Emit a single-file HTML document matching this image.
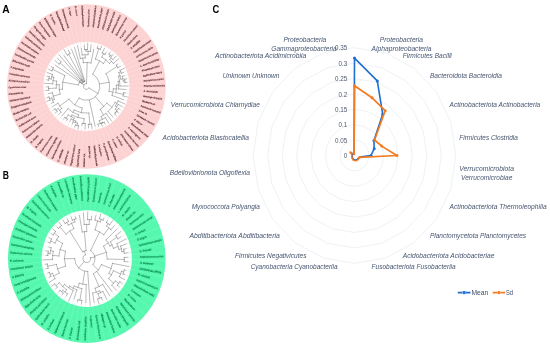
<!DOCTYPE html><html><head><meta charset="utf-8"><title>Figure</title>
<style>html,body{margin:0;padding:0;background:#fff}svg{display:block}</style></head><body>
<svg width="550" height="347" viewBox="0 0 550 347">
<rect width="550" height="347" fill="#fff"/>
<g transform="translate(86.40 86.45) scale(0.9650 1)"><circle cx="0.00" cy="0.00" r="82.25" fill="#FCD3D2"/><path d="M10.81 -43.37L19.90 -79.81M14.45 -42.30L26.59 -77.83M17.99 -40.92L33.10 -75.30M21.39 -39.25L39.37 -72.22M24.65 -37.29L45.35 -68.62M27.72 -35.07L51.00 -64.53M30.59 -32.59L56.29 -59.97M33.25 -29.88L61.18 -54.98M35.66 -26.95L65.62 -49.59M37.82 -23.83L69.59 -43.85M39.70 -20.54L73.05 -37.79M41.30 -17.10L76.00 -31.46M42.60 -13.53L78.39 -24.90M43.60 -9.87L80.22 -18.16M44.28 -6.14L81.47 -11.29M44.64 -2.36L82.14 -4.34M44.68 1.43L82.21 2.64M44.39 5.22L81.69 9.60M43.79 8.96L80.58 16.49M42.87 12.64L78.89 23.27M41.65 16.24L76.63 29.87M40.12 19.71L73.82 36.27M38.30 23.04L70.48 42.40M36.21 26.21L66.63 48.22M33.86 29.18L62.30 53.70M31.26 31.95L57.53 58.79M28.44 34.48L52.33 63.45M25.41 36.77L46.76 67.66M22.20 38.80L40.86 71.39M18.83 40.54L34.65 74.59M15.33 41.99L28.20 77.26M11.71 43.14L21.55 79.38M8.01 43.98L14.74 80.92M4.25 44.50L7.83 81.88M0.46 44.70L0.85 82.25M-3.33 44.58L-6.12 82.02M-7.10 44.13L-13.06 81.21M-10.81 43.37L-19.90 79.81M-14.45 42.30L-26.59 77.83M-17.99 40.92L-33.10 75.30M-21.39 39.25L-39.37 72.22M-24.65 37.29L-45.35 68.62M-27.72 35.07L-51.00 64.53M-30.59 32.59L-56.29 59.97M-33.25 29.88L-61.18 54.98M-35.66 26.95L-65.62 49.59M-37.82 23.83L-69.59 43.85M-39.70 20.54L-73.05 37.79M-41.30 17.10L-76.00 31.46M-42.60 13.53L-78.39 24.90M-43.60 9.87L-80.22 18.16M-44.28 6.14L-81.47 11.29M-44.64 2.36L-82.14 4.34M-44.68 -1.43L-82.21 -2.64M-44.39 -5.22L-81.69 -9.60M-43.79 -8.96L-80.58 -16.49M-42.87 -12.64L-78.89 -23.27M-41.65 -16.24L-76.63 -29.87M-40.12 -19.71L-73.82 -36.27M-38.30 -23.04L-70.48 -42.40M-36.21 -26.21L-66.63 -48.22M-33.86 -29.18L-62.30 -53.70M-31.26 -31.95L-57.53 -58.79M-28.44 -34.48L-52.33 -63.45M-25.41 -36.77L-46.76 -67.66M-22.20 -38.80L-40.86 -71.39M-18.83 -40.54L-34.65 -74.59M-15.33 -41.99L-28.20 -77.26M-11.71 -43.14L-21.55 -79.38M-8.01 -43.98L-14.74 -80.92M-4.25 -44.50L-7.83 -81.88M-0.46 -44.70L-0.85 -82.25M3.33 -44.58L6.12 -82.02M7.10 -44.13L13.06 -81.21" stroke="#FDE0E0" stroke-width="0.5" fill="none"/><circle cx="0.00" cy="0.00" r="44.70" fill="#fff"/><path d="M11.84 -40.15L12.64 -42.87M15.60 -40.01L16.24 -41.65M18.71 -38.08L19.71 -40.12M20.25 -33.67L23.04 -38.30M24.61 -34.00L26.21 -36.21M27.40 -31.79L29.18 -33.86M30.84 -30.18L31.95 -31.26M33.07 -27.28L34.48 -28.44M32.33 -22.35L36.77 -25.41M35.21 -20.15L38.80 -22.20M39.24 -18.23L40.54 -18.83M38.50 -14.05L41.99 -15.33M39.16 -10.63L43.14 -11.71M41.52 -7.56L43.98 -8.01M42.01 -4.01L44.50 -4.25M43.19 -0.45L44.70 -0.46M40.75 3.04L44.58 3.33M40.65 6.54L44.13 7.10M42.23 10.53L43.37 10.81M38.51 13.16L42.30 14.45M39.61 17.41L40.92 17.99M37.01 20.18L39.25 21.39M34.83 23.02L37.29 24.65M33.11 26.17L35.07 27.72M30.77 28.88L32.59 30.59M27.13 30.19L29.88 33.25M26.03 34.44L26.95 35.66M22.94 36.40L23.83 37.82M19.39 37.48L20.54 39.70M16.39 39.58L17.10 41.30M12.61 39.69L13.53 42.60M8.96 39.59L9.87 43.60M5.80 41.85L6.14 44.28M2.18 41.21L2.36 44.64M-1.36 42.36L-1.43 44.68M-4.57 38.90L-5.22 44.39M-8.63 42.15L-8.96 43.79M-11.94 40.48L-12.64 42.87M-14.47 37.11L-16.24 41.65M-17.07 34.75L-19.71 40.12M-20.45 33.99L-23.04 38.30M-23.50 32.47L-26.21 36.21M-25.23 29.28L-29.18 33.86M-28.63 28.01L-31.95 31.26M-32.07 26.45L-34.48 28.44M-34.08 23.55L-36.77 25.41M-34.99 20.03L-38.80 22.20M-35.96 16.71L-40.54 18.83M-40.44 14.76L-41.99 15.33M-40.73 11.06L-43.14 11.71M-39.22 7.14L-43.98 8.01M-41.97 4.01L-44.50 4.25M-41.25 0.43L-44.70 0.46M-43.36 -3.24L-44.58 -3.33M-41.10 -6.61L-44.13 -7.10M-40.39 -10.07L-43.37 -10.81M-40.45 -13.82L-42.30 -14.45M-38.78 -17.05L-40.92 -17.99M-36.21 -19.74L-39.25 -21.39M-31.99 -21.14L-37.29 -24.65M-32.46 -25.66L-35.07 -27.72M-29.89 -28.06L-32.59 -30.59M-28.42 -31.62L-29.88 -33.25M-23.14 -30.62L-26.95 -35.66M-23.28 -36.94L-23.83 -37.82M-18.56 -35.88L-20.54 -39.70M-15.22 -36.76L-17.10 -41.30M-12.32 -38.78L-13.53 -42.60M-9.22 -40.71L-9.87 -43.60M-5.29 -38.14L-6.14 -44.28M-2.18 -41.30L-2.36 -44.64M1.38 -43.15L1.43 -44.68M4.88 -41.55L5.22 -44.39M7.59 -37.07L8.96 -43.79" fill="none" stroke="#F6C9C9" stroke-width="0.3"/><path d="M2.58 1.53A3.00 3.00 0 1 1 0.10 -3.00M2.58 1.53L12.05 7.13M6.60 -12.35A14.00 14.00 0 1 1 -7.65 11.73M6.60 -12.35L13.68 -25.57M9.38 -27.44A29.00 29.00 0 0 1 17.62 -23.03M9.38 -27.44L12.89 -37.72M11.28 -38.23A39.86 39.86 0 0 1 14.48 -37.14M11.28 -38.23L11.84 -40.15M14.48 -37.14L15.60 -40.01M17.62 -23.03L20.30 -26.54M15.99 -29.34A33.42 33.42 0 0 1 24.13 -23.12M15.99 -29.34L17.85 -32.74M16.44 -33.47A37.29 37.29 0 0 1 19.22 -31.96M16.44 -33.47L18.71 -38.08M19.22 -31.96L20.25 -33.67M24.13 -23.12L26.14 -25.04M24.20 -26.91A36.19 36.19 0 0 1 27.92 -23.03M24.20 -26.91L25.68 -28.54M23.81 -30.12A38.39 38.39 0 0 1 27.44 -26.85M23.81 -30.12L24.79 -31.36M23.43 -32.38A39.97 39.97 0 0 1 26.09 -30.28M23.43 -32.38L24.61 -34.00M26.09 -30.28L27.40 -31.79M27.44 -26.85L30.84 -30.18M27.92 -23.03L33.07 -27.28M13.78 -2.49L23.62 -4.26M20.31 -12.79A24.00 24.00 0 0 1 23.50 4.89M20.31 -12.79L31.80 -20.04M30.92 -21.37A37.59 37.59 0 0 1 32.63 -18.67M30.92 -21.37L32.33 -22.35M32.63 -18.67L35.21 -20.15M23.50 4.89L27.50 5.72M28.00 2.28A28.09 28.09 0 0 1 26.58 9.08M28.00 2.28L31.06 2.53M31.14 -1.23A31.16 31.16 0 0 1 30.53 6.25M31.14 -1.23L33.24 -1.32M32.88 -5.09A33.27 33.27 0 0 1 33.18 2.48M32.88 -5.09L34.42 -5.33M33.30 -10.19A34.83 34.83 0 0 1 34.82 -0.36M33.30 -10.19L34.86 -10.67M33.68 -13.94A36.45 36.45 0 0 1 35.72 -7.29M33.68 -13.94L35.56 -14.72M34.90 -16.21A38.48 38.48 0 0 1 36.15 -13.20M34.90 -16.21L39.24 -18.23M36.15 -13.20L38.50 -14.05M35.72 -7.29L37.80 -7.72M37.23 -10.11A38.58 38.58 0 0 1 38.21 -5.30M37.23 -10.11L39.16 -10.63M38.21 -5.30L39.82 -5.52M39.55 -7.20A40.20 40.20 0 0 1 40.02 -3.82M39.55 -7.20L41.52 -7.56M40.02 -3.82L42.01 -4.01M34.82 -0.36L43.19 -0.45M33.18 2.48L40.75 3.04M30.53 6.25L38.37 7.85M38.67 6.22A39.17 39.17 0 0 1 38.01 9.48M38.67 6.22L40.65 6.54M38.01 9.48L42.23 10.53M26.58 9.08L38.51 13.16M9.34 10.43L18.02 20.11M21.23 16.69A27.00 27.00 0 0 1 14.27 22.92M21.23 16.69L26.52 20.85M29.71 15.99A33.74 33.74 0 0 1 22.55 25.09M29.71 15.99L31.60 17.01M32.85 14.44A35.88 35.88 0 0 1 30.15 19.47M32.85 14.44L39.61 17.41M30.15 19.47L31.54 20.36M32.96 17.97A37.54 37.54 0 0 1 29.94 22.65M32.96 17.97L37.01 20.18M29.94 22.65L31.70 23.98M33.16 21.91A39.75 39.75 0 0 1 30.11 25.95M33.16 21.91L34.83 23.02M30.11 25.95L30.45 26.24M31.54 24.93A40.20 40.20 0 0 1 29.31 27.51M31.54 24.93L33.11 26.17M29.31 27.51L30.77 28.88M22.55 25.09L27.13 30.19M14.27 22.92L17.82 28.62M20.33 26.90A33.72 33.72 0 0 1 15.17 30.11M20.33 26.90L26.03 34.44M15.17 30.11L16.57 32.88M19.63 31.15A36.82 36.82 0 0 1 13.36 34.31M19.63 31.15L22.94 36.40M13.36 34.31L14.38 36.94M16.70 35.95A39.64 39.64 0 0 1 12.00 37.78M16.70 35.95L16.94 36.46M18.47 35.71A40.20 40.20 0 0 1 15.38 37.14M18.47 35.71L19.39 37.48M15.38 37.14L16.39 39.58M12.00 37.78L12.61 39.69M3.09 13.65L8.96 39.59M-7.65 11.73L-12.01 18.43M-4.37 21.56A22.00 22.00 0 0 1 -17.96 12.70M-4.37 21.56L-5.33 26.29M2.55 26.70A26.82 26.82 0 0 1 -12.74 23.60M2.55 26.70L3.62 37.85M5.22 37.66A38.02 38.02 0 0 1 2.01 37.97M5.22 37.66L5.80 41.85M2.01 37.97L2.18 41.21M-12.74 23.60L-13.99 25.91M-8.10 28.31A29.44 29.44 0 0 1 -19.22 22.30M-8.10 28.31L-8.89 31.06M-2.41 32.22A32.31 32.31 0 0 1 -15.01 28.61M-2.41 32.22L-2.77 37.06M-1.19 37.15A37.17 37.17 0 0 1 -4.34 36.91M-1.19 37.15L-1.36 42.36M-4.34 36.91L-4.57 38.90M-15.01 28.61L-15.87 30.26M-12.75 31.70A34.17 34.17 0 0 1 -18.84 28.51M-12.75 31.70L-13.53 33.65M-10.99 34.56A36.26 36.26 0 0 1 -15.99 32.55M-10.99 34.56L-11.47 36.05M-9.15 36.71A37.83 37.83 0 0 1 -13.74 35.25M-9.15 36.71L-9.73 39.01M-8.06 39.38A40.20 40.20 0 0 1 -11.37 38.56M-8.06 39.38L-8.63 42.15M-11.37 38.56L-11.94 40.48M-13.74 35.25L-14.47 37.11M-15.99 32.55L-17.07 34.75M-18.84 28.51L-21.00 31.77M-19.63 32.64A38.08 38.08 0 0 1 -22.33 30.85M-19.63 32.64L-20.45 33.99M-22.33 30.85L-23.50 32.47M-19.22 22.30L-25.23 29.28M-17.96 12.70L-27.65 19.55M-25.66 22.10A33.86 33.86 0 0 1 -29.39 16.82M-25.66 22.10L-27.87 23.99M-26.28 25.72A36.77 36.77 0 0 1 -29.34 22.17M-26.28 25.72L-28.63 28.01M-29.34 22.17L-31.45 23.77M-30.42 25.09A39.43 39.43 0 0 1 -32.43 22.42M-30.42 25.09L-32.07 26.45M-32.43 22.42L-34.08 23.55M-29.39 16.82L-34.99 20.03M-2.56 -1.57L-7.25 -4.43M-8.37 -1.47A8.50 8.50 0 0 1 -5.13 -6.78M-8.37 -1.47L-24.62 -4.33M-24.85 2.71A25.00 25.00 0 0 1 -22.44 -11.02M-24.85 2.71L-28.15 3.07M-27.24 7.71A28.31 28.31 0 0 1 -28.27 -1.66M-27.24 7.71L-34.35 9.72M-33.27 12.95A35.70 35.70 0 0 1 -35.12 6.40M-33.27 12.95L-35.09 13.66M-34.15 15.86A37.65 37.65 0 0 1 -35.88 11.40M-34.15 15.86L-35.96 16.71M-35.88 11.40L-38.31 12.17M-37.76 13.78A40.20 40.20 0 0 1 -38.80 10.53M-37.76 13.78L-40.44 14.76M-38.80 10.53L-40.73 11.06M-35.12 6.40L-39.22 7.14M-28.27 -1.66L-31.21 -1.83M-31.22 1.65A31.26 31.26 0 0 1 -30.81 -5.29M-31.22 1.65L-39.19 2.07M-39.07 3.73A39.25 39.25 0 0 1 -39.25 0.41M-39.07 3.73L-41.97 4.01M-39.25 0.41L-41.25 0.43M-30.81 -5.29L-34.49 -5.92M-34.90 -2.61A34.99 34.99 0 0 1 -33.77 -9.18M-34.90 -2.61L-43.36 -3.24M-33.77 -9.18L-35.90 -9.77M-36.45 -7.46A37.21 37.21 0 0 1 -35.21 -12.03M-36.45 -7.46L-38.82 -7.95M-39.12 -6.29A39.62 39.62 0 0 1 -38.45 -9.59M-39.12 -6.29L-41.10 -6.61M-38.45 -9.59L-40.39 -10.07M-35.21 -12.03L-40.45 -13.82M-22.44 -11.02L-34.89 -17.14M-35.59 -15.65A38.88 38.88 0 0 1 -34.14 -18.61M-35.59 -15.65L-38.78 -17.05M-34.14 -18.61L-36.21 -19.74M-5.13 -6.78L-3.32 -4.39M-4.59 -3.03A5.50 5.50 0 0 1 -1.67 -5.24M-4.59 -3.03L-31.99 -21.14M-4.17 -3.59L-27.27 -23.50M-28.24 -22.32A36.00 36.00 0 0 1 -26.25 -24.64M-28.24 -22.32L-32.46 -25.66M-26.25 -24.64L-29.89 -28.06M-3.68 -4.09L-28.42 -31.62M-3.32 -4.39L-23.14 -30.62M-2.73 -4.77L-18.38 -32.11M-19.73 -31.30A37.00 37.00 0 0 1 -17.00 -32.86M-19.73 -31.30L-23.28 -36.94M-17.00 -32.86L-18.56 -35.88M-2.10 -5.08L-15.22 -36.76M-1.67 -5.24L-12.32 -38.78M0.10 -3.00L0.83 -23.99M-3.17 -23.79A24.00 24.00 0 0 1 4.81 -23.51M-3.17 -23.79L-3.78 -28.37M-6.32 -27.91A28.62 28.62 0 0 1 -1.21 -28.59M-6.32 -27.91L-9.22 -40.71M-1.21 -28.59L-1.34 -31.76M-4.36 -31.49A31.79 31.79 0 0 1 1.69 -31.74M-4.36 -31.49L-5.29 -38.14M1.69 -31.74L1.88 -35.16M-0.37 -35.21A35.21 35.21 0 0 1 4.11 -34.97M-0.37 -35.21L-0.38 -36.92M-1.95 -36.87A36.92 36.92 0 0 1 1.18 -36.91M-1.95 -36.87L-2.18 -41.30M1.18 -36.91L1.38 -43.15M4.11 -34.97L4.88 -41.55M4.81 -23.51L7.59 -37.07" fill="none" stroke="#4d4d4d" stroke-width="0.4" stroke-linecap="square"/><g font-family="'Liberation Sans', sans-serif" font-size="2.45" font-style="italic" font-weight="bold" fill="#5a2832" stroke="#5a2832" stroke-width="0.09"><text transform="translate(16.83 -57.07) rotate(-73.57)" y="0.86" textLength="21.01" lengthAdjust="spacingAndGlyphs">Bifidobacterium bifidum</text><text transform="translate(21.61 -55.44) rotate(-68.70)" y="0.86" textLength="20.62" lengthAdjust="spacingAndGlyphs">Subdoligranulum variabile</text><text transform="translate(26.23 -53.40) rotate(-63.84)" y="0.86" textLength="19.85" lengthAdjust="spacingAndGlyphs">Anaerostipes hadrus</text><text transform="translate(30.67 -50.99) rotate(-58.97)" y="0.86" textLength="20.85" lengthAdjust="spacingAndGlyphs">Butyricimonas virosa</text><text transform="translate(34.88 -48.20) rotate(-54.11)" y="0.86" textLength="9.69" lengthAdjust="spacingAndGlyphs">R. gnavus</text><text transform="translate(38.84 -45.07) rotate(-49.24)" y="0.86" textLength="21.04" lengthAdjust="spacingAndGlyphs">Flavonifractor plautii</text><text transform="translate(42.53 -41.61) rotate(-44.38)" y="0.86" textLength="13.99" lengthAdjust="spacingAndGlyphs">Blautia obeum</text><text transform="translate(45.90 -37.86) rotate(-39.51)" y="0.86" textLength="12.61" lengthAdjust="spacingAndGlyphs">P. mirabilis</text><text transform="translate(48.95 -33.83) rotate(-34.65)" y="0.86" textLength="21.44" lengthAdjust="spacingAndGlyphs">Erysipelatoclostridium ramosum</text><text transform="translate(51.64 -29.56) rotate(-29.78)" y="0.86" textLength="19.83" lengthAdjust="spacingAndGlyphs">Lactococcus lactis</text><text transform="translate(53.96 -25.07) rotate(-24.92)" y="0.86" textLength="21.78" lengthAdjust="spacingAndGlyphs">Staphylococcus aureus</text><text transform="translate(55.89 -20.40) rotate(-20.05)" y="0.86" textLength="20.76" lengthAdjust="spacingAndGlyphs">L. asaccharolyticus</text><text transform="translate(57.42 -15.59) rotate(-15.19)" y="0.86" textLength="18.79" lengthAdjust="spacingAndGlyphs">Phocaeicola dorei</text><text transform="translate(58.54 -10.66) rotate(-10.32)" y="0.86" textLength="20.13" lengthAdjust="spacingAndGlyphs">Agathobacter faecis</text><text transform="translate(59.23 -5.66) rotate(-5.46)" y="0.86" textLength="20.80" lengthAdjust="spacingAndGlyphs">Peptostreptococcus anaerobius</text><text transform="translate(59.50 -0.62) rotate(-0.59)" y="0.86" textLength="21.83" lengthAdjust="spacingAndGlyphs">Bilophila wadsworthia</text><text transform="translate(59.33 4.43) rotate(4.27)" y="0.86" textLength="14.75" lengthAdjust="spacingAndGlyphs">A. muciniphila</text><text transform="translate(58.75 9.45) rotate(9.14)" y="0.86" textLength="20.05" lengthAdjust="spacingAndGlyphs">Gemmiger formicilis</text><text transform="translate(57.73 14.39) rotate(14.00)" y="0.86" textLength="14.30" lengthAdjust="spacingAndGlyphs">Roseburia sp.</text><text transform="translate(56.30 19.24) rotate(18.86)" y="0.86" textLength="21.68" lengthAdjust="spacingAndGlyphs">Acinetobacter baumannii</text><text transform="translate(54.47 23.94) rotate(23.73)" y="0.86" textLength="9.60" lengthAdjust="spacingAndGlyphs">Dorea sp.</text><text transform="translate(52.24 28.48) rotate(28.59)" y="0.86" textLength="20.49" lengthAdjust="spacingAndGlyphs">Citrobacter freundii</text><text transform="translate(49.64 32.81) rotate(33.46)" y="0.86" textLength="9.79" lengthAdjust="spacingAndGlyphs">V. dispar</text><text transform="translate(46.68 36.90) rotate(38.32)" y="0.86" textLength="21.95" lengthAdjust="spacingAndGlyphs">Methanobrevibacter smithii</text><text transform="translate(43.38 40.72) rotate(43.19)" y="0.86" textLength="17.19" lengthAdjust="spacingAndGlyphs">O. valericigenes</text><text transform="translate(39.77 44.25) rotate(48.05)" y="0.86" textLength="21.23" lengthAdjust="spacingAndGlyphs">Lactobacillus rhamnosus</text><text transform="translate(35.88 47.47) rotate(52.92)" y="0.86" textLength="20.75" lengthAdjust="spacingAndGlyphs">Enterobacter cloacae</text><text transform="translate(31.72 50.34) rotate(57.78)" y="0.86" textLength="10.43" lengthAdjust="spacingAndGlyphs">D. invisus</text><text transform="translate(27.34 52.85) rotate(62.65)" y="0.86" textLength="9.70" lengthAdjust="spacingAndGlyphs">F. varium</text><text transform="translate(22.76 54.98) rotate(67.51)" y="0.86" textLength="21.34" lengthAdjust="spacingAndGlyphs">Enterocloster bolteae</text><text transform="translate(18.01 56.71) rotate(72.38)" y="0.86" textLength="17.84" lengthAdjust="spacingAndGlyphs">H. parainfluenzae</text><text transform="translate(13.14 58.03) rotate(77.24)" y="0.86" textLength="12.11" lengthAdjust="spacingAndGlyphs">P. vulgatus</text><text transform="translate(8.17 58.94) rotate(82.11)" y="0.86" textLength="21.04" lengthAdjust="spacingAndGlyphs">Veillonella parvula</text><text transform="translate(3.14 59.42) rotate(86.97)" y="0.86" textLength="12.48" lengthAdjust="spacingAndGlyphs">Bacillus sp.</text><text transform="translate(-2.59 80.76) rotate(271.84)" y="0.86" textLength="13.92" lengthAdjust="spacingAndGlyphs">Dialister sp.</text><text transform="translate(-9.43 80.25) rotate(276.70)" y="0.86" textLength="18.03" lengthAdjust="spacingAndGlyphs">Eggerthella lenta</text><text transform="translate(-16.20 79.16) rotate(281.57)" y="0.86" textLength="21.25" lengthAdjust="spacingAndGlyphs">Megasphaera elsdenii</text><text transform="translate(-22.86 77.50) rotate(286.43)" y="0.86" textLength="14.06" lengthAdjust="spacingAndGlyphs">Alistipes sp.</text><text transform="translate(-29.35 75.28) rotate(291.30)" y="0.86" textLength="13.08" lengthAdjust="spacingAndGlyphs">C. difficile</text><text transform="translate(-35.63 72.52) rotate(296.16)" y="0.86" textLength="20.74" lengthAdjust="spacingAndGlyphs">Bacteroides uniformis</text><text transform="translate(-41.65 69.24) rotate(301.03)" y="0.86" textLength="21.60" lengthAdjust="spacingAndGlyphs">Anaerococcus vaginalis</text><text transform="translate(-47.37 65.46) rotate(305.89)" y="0.86" textLength="19.96" lengthAdjust="spacingAndGlyphs">Eubacterium rectale</text><text transform="translate(-52.75 61.21) rotate(310.76)" y="0.86" textLength="11.83" lengthAdjust="spacingAndGlyphs">B. fragilis</text><text transform="translate(-57.75 56.51) rotate(315.62)" y="0.86" textLength="11.05" lengthAdjust="spacingAndGlyphs">R. ilealis</text><text transform="translate(-62.34 51.41) rotate(320.49)" y="0.86" textLength="21.55" lengthAdjust="spacingAndGlyphs">Parabacteroides distasonis</text><text transform="translate(-66.47 45.94) rotate(325.35)" y="0.86" textLength="21.43" lengthAdjust="spacingAndGlyphs">Streptococcus salivarius</text><text transform="translate(-70.13 40.14) rotate(330.22)" y="0.86" textLength="20.55" lengthAdjust="spacingAndGlyphs">Cutibacterium acnes</text><text transform="translate(-73.28 34.04) rotate(335.08)" y="0.86" textLength="17.79" lengthAdjust="spacingAndGlyphs">Escherichia coli</text><text transform="translate(-75.90 27.71) rotate(339.95)" y="0.86" textLength="16.88" lengthAdjust="spacingAndGlyphs">Blautia wexlerae</text><text transform="translate(-77.98 21.17) rotate(344.81)" y="0.86" textLength="21.61" lengthAdjust="spacingAndGlyphs">Roseburia intestinalis</text><text transform="translate(-79.49 14.48) rotate(349.68)" y="0.86" textLength="21.71" lengthAdjust="spacingAndGlyphs">Odoribacter splanchnicus</text><text transform="translate(-80.43 7.69) rotate(354.54)" y="0.86" textLength="15.47" lengthAdjust="spacingAndGlyphs">Prevotella sp.</text><text transform="translate(-80.80 0.84) rotate(359.41)" y="0.86" textLength="18.52" lengthAdjust="spacingAndGlyphs">Coprococcus comes</text><text transform="translate(-80.58 -6.02) rotate(364.27)" y="0.86" textLength="21.64" lengthAdjust="spacingAndGlyphs">Alistipes putredinis</text><text transform="translate(-79.78 -12.83) rotate(369.14)" y="0.86" textLength="21.57" lengthAdjust="spacingAndGlyphs">Fusicatenibacter saccharivorans</text><text transform="translate(-78.40 -19.55) rotate(374.00)" y="0.86" textLength="13.80" lengthAdjust="spacingAndGlyphs">K. pneumoniae</text><text transform="translate(-76.46 -26.13) rotate(378.86)" y="0.86" textLength="18.65" lengthAdjust="spacingAndGlyphs">Eubacterium hallii</text><text transform="translate(-73.97 -32.52) rotate(383.73)" y="0.86" textLength="21.44" lengthAdjust="spacingAndGlyphs">Lactobacillus gasseri</text><text transform="translate(-70.94 -38.67) rotate(388.59)" y="0.86" textLength="20.82" lengthAdjust="spacingAndGlyphs">Enterococcus faecalis</text><text transform="translate(-67.41 -44.55) rotate(393.46)" y="0.86" textLength="21.49" lengthAdjust="spacingAndGlyphs">Pseudomonas aeruginosa</text><text transform="translate(-63.39 -50.11) rotate(398.32)" y="0.86" textLength="21.48" lengthAdjust="spacingAndGlyphs">Collinsella aerofaciens</text><text transform="translate(-58.91 -55.30) rotate(403.19)" y="0.86" textLength="21.28" lengthAdjust="spacingAndGlyphs">Barnesiella intestinihominis</text><text transform="translate(-54.01 -60.10) rotate(408.05)" y="0.86" textLength="17.81" lengthAdjust="spacingAndGlyphs">Finegoldia magna</text><text transform="translate(-48.72 -64.46) rotate(412.92)" y="0.86" textLength="18.53" lengthAdjust="spacingAndGlyphs">Dorea longicatena</text><text transform="translate(-43.08 -68.36) rotate(417.78)" y="0.86" textLength="21.97" lengthAdjust="spacingAndGlyphs">Bifidobacterium longum</text><text transform="translate(-37.12 -71.77) rotate(422.65)" y="0.86" textLength="10.83" lengthAdjust="spacingAndGlyphs">R. hominis</text><text transform="translate(-30.90 -74.66) rotate(427.51)" y="0.86" textLength="20.86" lengthAdjust="spacingAndGlyphs">Hungatella hathewayi</text><text transform="translate(-24.46 -77.01) rotate(432.38)" y="0.86" textLength="19.74" lengthAdjust="spacingAndGlyphs">Ruminococcus bromii</text><text transform="translate(-17.84 -78.81) rotate(437.24)" y="0.86" textLength="8.51" lengthAdjust="spacingAndGlyphs">P. copri</text><text transform="translate(-11.09 -80.03) rotate(442.11)" y="0.86" textLength="9.49" lengthAdjust="spacingAndGlyphs">B. cereus</text><text transform="translate(-4.27 -80.69) rotate(446.97)" y="0.86" textLength="21.31" lengthAdjust="spacingAndGlyphs">Mediterraneibacter torques</text><text transform="translate(1.91 -59.47) rotate(-88.16)" y="0.86" textLength="17.77" lengthAdjust="spacingAndGlyphs">Parvimonas micra</text><text transform="translate(6.94 -59.09) rotate(-83.30)" y="0.86" textLength="21.99" lengthAdjust="spacingAndGlyphs">Holdemanella biformis</text><text transform="translate(11.93 -58.29) rotate(-78.43)" y="0.86" textLength="20.87" lengthAdjust="spacingAndGlyphs">Desulfovibrio piger</text></g></g>
<g transform="translate(86.75 258.55) scale(0.9330 1)"><circle cx="0.00" cy="0.00" r="84.40" fill="#55F8AE"/><path d="M8.40 -47.62L14.66 -83.12M13.17 -46.52L22.99 -81.21M17.81 -44.95L31.09 -78.47M22.27 -42.92L38.87 -74.92M26.49 -40.45L46.25 -70.60M30.45 -37.56L53.15 -65.56M34.09 -34.28L59.51 -59.85M37.39 -30.66L65.26 -53.52M40.30 -26.72L70.34 -46.64M42.79 -22.51L74.70 -39.29M44.85 -18.06L78.29 -31.53M46.45 -13.43L81.08 -23.45M47.57 -8.66L83.03 -15.12M48.20 -3.81L84.14 -6.65M48.34 1.09L84.38 1.90M47.98 5.97L83.75 10.43M47.13 10.80L82.27 18.85M45.79 15.51L79.94 27.07M43.99 20.06L76.79 35.02M41.74 24.41L72.85 42.61M39.05 28.51L68.17 49.76M35.97 32.31L62.78 56.40M32.51 35.78L56.76 62.47M28.73 38.89L50.15 67.89M24.64 41.60L43.02 72.61M20.31 43.88L35.45 76.59M15.77 45.71L27.52 79.79M11.06 47.07L19.31 82.16M6.24 47.95L10.90 83.69M1.36 48.33L2.38 84.37M-3.54 48.22L-6.17 84.17M-8.40 47.62L-14.66 83.12M-13.17 46.52L-22.99 81.21M-17.81 44.95L-31.09 78.47M-22.27 42.92L-38.87 74.92M-26.49 40.45L-46.25 70.60M-30.45 37.56L-53.15 65.56M-34.09 34.28L-59.51 59.85M-37.39 30.66L-65.26 53.52M-40.30 26.72L-70.34 46.64M-42.79 22.51L-74.70 39.29M-44.85 18.06L-78.29 31.53M-46.45 13.43L-81.08 23.45M-47.57 8.66L-83.03 15.12M-48.20 3.81L-84.14 6.65M-48.34 -1.09L-84.38 -1.90M-47.98 -5.97L-83.75 -10.43M-47.13 -10.80L-82.27 -18.85M-45.79 -15.51L-79.94 -27.07M-43.99 -20.06L-76.79 -35.02M-41.74 -24.41L-72.85 -42.61M-39.05 -28.51L-68.17 -49.76M-35.97 -32.31L-62.78 -56.40M-32.51 -35.78L-56.76 -62.47M-28.73 -38.89L-50.15 -67.89M-24.64 -41.60L-43.02 -72.61M-20.31 -43.88L-35.45 -76.59M-15.77 -45.71L-27.52 -79.79M-11.06 -47.07L-19.31 -82.16M-6.24 -47.95L-10.90 -83.69M-1.36 -48.33L-2.38 -84.37M3.54 -48.22L6.17 -84.17" stroke="#7BFCC3" stroke-width="0.5" fill="none"/><circle cx="0.00" cy="0.00" r="48.35" fill="#fff"/><path d="M9.83 -42.90L10.80 -47.13M14.98 -44.23L15.51 -45.79M18.31 -40.15L20.06 -43.99M22.05 -37.71L24.41 -41.74M27.64 -37.86L28.51 -39.05M29.39 -32.72L32.31 -35.97M32.55 -29.58L35.78 -32.51M36.27 -26.79L38.89 -28.73M36.68 -21.73L41.60 -24.64M41.86 -19.38L43.88 -20.31M42.21 -14.56L45.71 -15.77M42.01 -9.87L47.07 -11.06M44.10 -5.74L47.95 -6.24M44.00 -1.24L48.33 -1.36M44.07 3.23L48.22 3.54M44.87 7.91L47.62 8.40M41.67 11.80L46.52 13.17M40.65 16.10L44.95 17.81M40.48 21.00L42.92 22.27M37.90 24.82L40.45 26.49M34.97 28.35L37.56 30.45M31.79 31.61L34.28 34.09M26.92 32.82L30.66 37.39M24.58 37.07L26.72 40.30M21.43 40.75L22.51 42.79M16.56 41.13L18.06 44.85M12.97 44.85L13.43 46.45M7.99 43.85L8.66 47.57M3.67 46.48L3.81 48.20M-0.99 43.94L-1.09 48.34M-5.67 45.51L-5.97 47.98M-9.88 43.12L-10.80 47.13M-13.64 40.26L-15.51 45.79M-19.28 42.28L-20.06 43.99M-21.85 37.35L-24.41 41.74M-26.40 36.17L-28.51 39.05M-29.93 33.31L-32.31 35.97M-33.02 30.00L-35.78 32.51M-37.21 27.48L-38.89 28.73M-40.02 23.71L-41.60 24.64M-40.22 18.62L-43.88 20.31M-41.53 14.33L-45.71 15.77M-43.36 10.19L-47.07 11.06M-44.17 5.75L-47.95 6.24M-46.78 1.32L-48.33 1.36M-43.52 -3.19L-48.22 -3.54M-43.48 -7.67L-47.62 -8.40M-40.60 -11.49L-46.52 -13.17M-41.26 -16.35L-44.95 -17.81M-40.37 -20.94L-42.92 -22.27M-37.72 -24.71L-40.45 -26.49M-36.18 -29.33L-37.56 -30.45M-31.71 -31.53L-34.28 -34.09M-29.88 -36.43L-30.66 -37.39M-25.47 -38.41L-26.72 -40.30M-20.90 -39.75L-22.51 -42.79M-16.73 -41.54L-18.06 -44.85M-12.04 -41.64L-13.43 -46.45M-7.85 -43.10L-8.66 -47.57M-3.58 -45.32L-3.81 -48.20M1.04 -46.30L1.09 -48.34M5.24 -42.09L5.97 -47.98" fill="none" stroke="#9EF5CF" stroke-width="0.3"/><path d="M3.94 -0.69A4.00 4.00 0 1 1 -1.33 -3.77M3.94 -0.69L8.87 -1.54M4.14 -7.99A9.00 9.00 0 0 1 6.60 6.12M4.14 -7.99L13.81 -26.63M8.90 -28.65A30.00 30.00 0 0 1 18.30 -23.77M8.90 -28.65L11.69 -37.62M8.80 -38.40A39.40 39.40 0 0 1 14.51 -36.63M8.80 -38.40L9.83 -42.90M14.51 -36.63L15.52 -39.17M13.51 -39.90A42.13 42.13 0 0 1 17.48 -38.33M13.51 -39.90L14.98 -44.23M17.48 -38.33L18.31 -40.15M18.30 -23.77L23.64 -30.72M21.24 -32.42A38.76 38.76 0 0 1 25.90 -28.83M21.24 -32.42L22.84 -34.87M21.04 -35.98A41.68 41.68 0 0 1 24.58 -33.67M21.04 -35.98L22.05 -37.71M24.58 -33.67L27.64 -37.86M25.90 -28.83L29.39 -32.72M8.63 -2.57L21.08 -6.28M18.14 -12.45A22.00 22.00 0 0 1 21.99 0.50M18.14 -12.45L22.95 -15.74M20.60 -18.71A27.83 27.83 0 0 1 24.87 -12.48M20.60 -18.71L32.55 -29.58M24.87 -12.48L27.15 -13.63M25.32 -16.79A30.38 30.38 0 0 1 28.59 -10.27M25.32 -16.79L32.25 -21.39M31.13 -22.99A38.70 38.70 0 0 1 33.30 -19.73M31.13 -22.99L36.27 -26.79M33.30 -19.73L36.68 -21.73M28.59 -10.27L33.63 -12.08M32.42 -15.01A35.73 35.73 0 0 1 34.56 -9.05M32.42 -15.01L41.86 -19.38M34.56 -9.05L37.14 -9.73M36.29 -12.52A38.39 38.39 0 0 1 37.77 -6.88M36.29 -12.52L42.21 -14.56M37.77 -6.88L39.95 -7.28M39.53 -9.29A40.61 40.61 0 0 1 40.27 -5.24M39.53 -9.29L42.01 -9.87M40.27 -5.24L44.10 -5.74M21.99 0.50L40.30 0.91M40.29 -1.13A40.31 40.31 0 0 1 40.20 2.95M40.29 -1.13L44.00 -1.24M40.20 2.95L44.07 3.23M6.60 6.12L12.46 11.56M15.88 6.06A17.00 17.00 0 0 1 7.24 15.38M15.88 6.06L26.16 9.98M27.57 4.86A28.00 28.00 0 0 1 23.80 14.74M27.57 4.86L44.87 7.91M23.80 14.74L26.41 16.36M28.58 12.17A31.07 31.07 0 0 1 23.63 20.17M28.58 12.17L36.28 15.45M37.34 12.65A39.43 39.43 0 0 1 35.00 18.16M37.34 12.65L39.60 13.41M40.22 11.39A41.80 41.80 0 0 1 38.87 15.40M40.22 11.39L41.67 11.80M38.87 15.40L40.65 16.10M35.00 18.16L40.48 21.00M23.63 20.17L28.82 24.60M30.60 22.34A37.89 37.89 0 0 1 26.86 26.71M30.60 22.34L34.21 24.97M35.43 23.21A42.35 42.35 0 0 1 32.90 26.67M35.43 23.21L37.90 24.82M32.90 26.67L34.97 28.35M26.86 26.71L31.79 31.61M10.78 13.14L26.92 32.82M7.24 15.38L13.20 28.05M17.13 25.84A31.00 31.00 0 0 1 8.99 29.67M17.13 25.84L24.58 37.07M8.99 29.67L10.19 33.65M13.96 32.27A35.16 35.16 0 0 1 6.30 34.59M13.96 32.27L14.74 34.08M17.29 32.87A37.13 37.13 0 0 1 12.11 35.10M17.29 32.87L21.43 40.75M12.11 35.10L13.72 39.78M15.72 39.03A42.08 42.08 0 0 1 11.69 40.42M15.72 39.03L16.56 41.13M11.69 40.42L12.97 44.85M6.30 34.59L7.99 43.85M-2.71 2.95L-8.79 9.57M1.02 12.96A13.00 13.00 0 0 1 -13.00 0.08M1.02 12.96L3.67 46.48M-2.19 12.81L-4.37 25.63M-0.59 25.99A26.00 26.00 0 0 1 -8.07 24.72M-0.59 25.99L-0.99 43.94M-8.07 24.72L-9.48 29.05M-5.31 30.09A30.56 30.56 0 0 1 -13.47 27.43M-5.31 30.09L-7.33 41.59M-5.22 41.91A42.23 42.23 0 0 1 -9.43 41.17M-5.22 41.91L-5.67 45.51M-9.43 41.17L-9.88 43.12M-13.47 27.43L-14.60 29.74M-10.63 31.38A33.13 33.13 0 0 1 -18.33 27.60M-10.63 31.38L-13.64 40.26M-18.33 27.60L-19.42 29.24M-14.57 31.94A35.10 35.10 0 0 1 -23.79 25.81M-14.57 31.94L-19.28 42.28M-23.79 25.81L-25.77 27.96M-21.63 31.27A38.03 38.03 0 0 1 -29.40 24.11M-21.63 31.27L-23.20 33.54M-20.59 35.20A40.78 40.78 0 0 1 -25.68 31.68M-20.59 35.20L-21.85 37.35M-25.68 31.68L-26.94 33.23M-25.22 34.55A42.78 42.78 0 0 1 -28.59 31.82M-25.22 34.55L-26.40 36.17M-28.59 31.82L-29.93 33.31M-29.40 24.11L-32.95 27.02M-31.54 28.65A42.61 42.61 0 0 1 -34.27 25.32M-31.54 28.65L-33.02 30.00M-34.27 25.32L-37.21 27.48M-13.00 0.08L-24.00 0.14M-22.79 7.54A24.00 24.00 0 0 1 -22.87 -7.27M-22.79 7.54L-31.33 10.37M-29.59 14.62A33.00 33.00 0 0 1 -32.47 5.91M-29.59 14.62L-35.48 17.53M-34.05 20.17A39.57 39.57 0 0 1 -36.71 14.78M-34.05 20.17L-40.02 23.71M-36.71 14.78L-39.25 15.81M-38.40 17.78A42.32 42.32 0 0 1 -40.01 13.80M-38.40 17.78L-40.22 18.62M-40.01 13.80L-41.53 14.33M-32.47 5.91L-41.85 7.62M-41.41 9.73A42.54 42.54 0 0 1 -42.18 5.49M-41.41 9.73L-43.36 10.19M-42.18 5.49L-44.17 5.75M-22.87 -7.27L-28.59 -9.08M-29.89 -2.57A30.00 30.00 0 0 1 -25.90 -15.15M-29.89 -2.57L-36.54 -3.15M-36.66 1.03A36.68 36.68 0 0 1 -35.95 -7.28M-36.66 1.03L-46.78 1.32M-35.95 -7.28L-38.85 -7.87M-39.33 -4.90A39.63 39.63 0 0 1 -38.14 -10.80M-39.33 -4.90L-41.54 -5.17M-41.75 -3.06A41.86 41.86 0 0 1 -41.22 -7.27M-41.75 -3.06L-43.52 -3.19M-41.22 -7.27L-43.48 -7.67M-38.14 -10.80L-40.60 -11.49M-25.90 -15.15L-32.25 -18.86M-33.99 -15.50A37.36 37.36 0 0 1 -30.18 -22.03M-33.99 -15.50L-38.56 -17.59M-39.40 -15.61A42.38 42.38 0 0 1 -37.62 -19.52M-39.40 -15.61L-41.26 -16.35M-37.62 -19.52L-40.37 -20.94M-30.18 -22.03L-34.81 -25.41M-36.05 -23.61A43.09 43.09 0 0 1 -33.48 -27.14M-36.05 -23.61L-37.72 -24.71M-33.48 -27.14L-36.18 -29.33M-1.33 -3.77L-2.66 -7.55M-4.42 -6.67A8.00 8.00 0 0 1 -0.73 -7.97M-4.42 -6.67L-18.24 -27.50M-22.19 -24.42A33.00 33.00 0 0 1 -13.86 -29.95M-22.19 -24.42L-28.73 -31.62M-30.29 -30.12A42.72 42.72 0 0 1 -27.09 -33.03M-30.29 -30.12L-31.71 -31.53M-27.09 -33.03L-29.88 -36.43M-13.86 -29.95L-16.30 -35.22M-19.78 -33.39A38.81 38.81 0 0 1 -12.65 -36.68M-19.78 -33.39L-21.41 -36.14M-23.21 -35.00A42.00 42.00 0 0 1 -19.55 -37.17M-23.21 -35.00L-25.47 -38.41M-19.55 -37.17L-20.90 -39.75M-12.65 -36.68L-13.48 -39.08M-15.44 -38.35A41.34 41.34 0 0 1 -11.49 -39.72M-15.44 -38.35L-16.73 -41.54M-11.49 -39.72L-12.04 -41.64M-0.73 -7.97L-2.47 -26.89M-4.84 -26.56A27.00 27.00 0 0 1 -0.08 -27.00M-4.84 -26.56L-7.85 -43.10M-0.08 -27.00L-0.10 -34.16M-2.69 -34.05A34.16 34.16 0 0 1 2.50 -34.07M-2.69 -34.05L-3.58 -45.32M2.50 -34.07L2.85 -38.90M0.88 -39.00A39.01 39.01 0 0 1 4.82 -38.71M0.88 -39.00L1.04 -46.30M4.82 -38.71L5.24 -42.09" fill="none" stroke="#4d4d4d" stroke-width="0.4" stroke-linecap="square"/><g font-family="'Liberation Sans', sans-serif" font-size="2.8" font-style="italic" font-weight="bold" fill="#0a8650" stroke="#0a8650" stroke-width="0.09"><text transform="translate(12.77 -55.76) rotate(-77.10)" y="0.98" textLength="10.91" lengthAdjust="spacingAndGlyphs">Dorea sp.</text><text transform="translate(18.35 -54.18) rotate(-71.29)" y="0.98" textLength="22.17" lengthAdjust="spacingAndGlyphs">Ruminococcus bromii</text><text transform="translate(23.74 -52.04) rotate(-65.48)" y="0.98" textLength="13.18" lengthAdjust="spacingAndGlyphs">E. faecalis</text><text transform="translate(28.88 -49.37) rotate(-59.68)" y="0.98" textLength="23.80" lengthAdjust="spacingAndGlyphs">Bifidobacterium adolescentis</text><text transform="translate(33.73 -46.20) rotate(-53.87)" y="0.98" textLength="21.78" lengthAdjust="spacingAndGlyphs">L. asaccharolyticus</text><text transform="translate(38.23 -42.55) rotate(-48.06)" y="0.98" textLength="11.89" lengthAdjust="spacingAndGlyphs">R. ilealis</text><text transform="translate(42.34 -38.47) rotate(-42.26)" y="0.98" textLength="12.99" lengthAdjust="spacingAndGlyphs">Blautia sp.</text><text transform="translate(46.01 -33.99) rotate(-36.45)" y="0.98" textLength="18.15" lengthAdjust="spacingAndGlyphs">Parvimonas micra</text><text transform="translate(49.21 -29.16) rotate(-30.65)" y="0.98" textLength="24.53" lengthAdjust="spacingAndGlyphs">Parabacteroides merdae</text><text transform="translate(51.91 -24.03) rotate(-24.84)" y="0.98" textLength="11.95" lengthAdjust="spacingAndGlyphs">D. invisus</text><text transform="translate(54.07 -18.65) rotate(-19.03)" y="0.98" textLength="10.33" lengthAdjust="spacingAndGlyphs">B. longum</text><text transform="translate(55.68 -13.09) rotate(-13.23)" y="0.98" textLength="25.22" lengthAdjust="spacingAndGlyphs">Peptostreptococcus anaerobius</text><text transform="translate(56.72 -7.39) rotate(-7.42)" y="0.98" textLength="12.62" lengthAdjust="spacingAndGlyphs">C. freundii</text><text transform="translate(57.18 -1.61) rotate(-1.61)" y="0.98" textLength="24.91" lengthAdjust="spacingAndGlyphs">Staphylococcus aureus</text><text transform="translate(57.05 4.18) rotate(4.19)" y="0.98" textLength="14.46" lengthAdjust="spacingAndGlyphs">H. hathewayi</text><text transform="translate(56.33 9.93) rotate(10.00)" y="0.98" textLength="24.07" lengthAdjust="spacingAndGlyphs">Clostridioides difficile</text><text transform="translate(55.04 15.58) rotate(15.81)" y="0.98" textLength="13.11" lengthAdjust="spacingAndGlyphs">M. elsdenii</text><text transform="translate(53.18 21.07) rotate(21.61)" y="0.98" textLength="24.79" lengthAdjust="spacingAndGlyphs">Streptococcus parasanguinis</text><text transform="translate(50.77 26.34) rotate(27.42)" y="0.98" textLength="24.08" lengthAdjust="spacingAndGlyphs">Methanobrevibacter smithii</text><text transform="translate(47.85 31.34) rotate(33.23)" y="0.98" textLength="11.90" lengthAdjust="spacingAndGlyphs">E. ramosum</text><text transform="translate(44.43 36.02) rotate(39.03)" y="0.98" textLength="10.65" lengthAdjust="spacingAndGlyphs">B. virosa</text><text transform="translate(40.56 40.33) rotate(44.84)" y="0.98" textLength="15.67" lengthAdjust="spacingAndGlyphs">Blautia obeum</text><text transform="translate(36.27 44.23) rotate(50.65)" y="0.98" textLength="23.92" lengthAdjust="spacingAndGlyphs">Staphylococcus epidermidis</text><text transform="translate(31.61 47.67) rotate(56.45)" y="0.98" textLength="22.78" lengthAdjust="spacingAndGlyphs">Alistipes finegoldii</text><text transform="translate(26.63 50.63) rotate(62.26)" y="0.98" textLength="20.99" lengthAdjust="spacingAndGlyphs">Bacteroides ovatus</text><text transform="translate(21.37 53.06) rotate(68.06)" y="0.98" textLength="22.86" lengthAdjust="spacingAndGlyphs">Anaerostipes hadrus</text><text transform="translate(15.89 54.95) rotate(73.87)" y="0.98" textLength="14.90" lengthAdjust="spacingAndGlyphs">Alistipes sp.</text><text transform="translate(10.25 56.27) rotate(79.68)" y="0.98" textLength="24.47" lengthAdjust="spacingAndGlyphs">Bacteroides thetaiotaomicron</text><text transform="translate(4.50 57.02) rotate(85.48)" y="0.98" textLength="11.81" lengthAdjust="spacingAndGlyphs">L. gasseri</text><text transform="translate(-1.85 82.28) rotate(271.29)" y="0.98" textLength="24.31" lengthAdjust="spacingAndGlyphs">Turicibacter sanguinis</text><text transform="translate(-10.17 81.67) rotate(277.10)" y="0.98" textLength="19.47" lengthAdjust="spacingAndGlyphs">Escherichia coli</text><text transform="translate(-18.38 80.22) rotate(282.90)" y="0.98" textLength="11.45" lengthAdjust="spacingAndGlyphs">E. cloacae</text><text transform="translate(-26.40 77.95) rotate(288.71)" y="0.98" textLength="18.23" lengthAdjust="spacingAndGlyphs">Blautia wexlerae</text><text transform="translate(-34.15 74.88) rotate(294.52)" y="0.98" textLength="23.77" lengthAdjust="spacingAndGlyphs">Parabacteroides distasonis</text><text transform="translate(-41.55 71.04) rotate(300.32)" y="0.98" textLength="12.03" lengthAdjust="spacingAndGlyphs">E. bolteae</text><text transform="translate(-48.52 66.47) rotate(306.13)" y="0.98" textLength="13.31" lengthAdjust="spacingAndGlyphs">B. subtilis</text><text transform="translate(-55.00 61.22) rotate(311.94)" y="0.98" textLength="21.87" lengthAdjust="spacingAndGlyphs">Agathobacter faecis</text><text transform="translate(-60.91 55.34) rotate(317.74)" y="0.98" textLength="23.82" lengthAdjust="spacingAndGlyphs">Alistipes putredinis</text><text transform="translate(-66.20 48.90) rotate(323.55)" y="0.98" textLength="20.44" lengthAdjust="spacingAndGlyphs">Eggerthella lenta</text><text transform="translate(-70.81 41.95) rotate(329.35)" y="0.98" textLength="25.12" lengthAdjust="spacingAndGlyphs">Bifidobacterium bifidum</text><text transform="translate(-74.69 34.57) rotate(335.16)" y="0.98" textLength="14.15" lengthAdjust="spacingAndGlyphs">P. mirabilis</text><text transform="translate(-77.80 26.84) rotate(340.97)" y="0.98" textLength="24.86" lengthAdjust="spacingAndGlyphs">Dorea formicigenerans</text><text transform="translate(-80.12 18.83) rotate(346.77)" y="0.98" textLength="13.00" lengthAdjust="spacingAndGlyphs">H. biformis</text><text transform="translate(-81.61 10.63) rotate(352.58)" y="0.98" textLength="23.84" lengthAdjust="spacingAndGlyphs">Intestinibacter bartlettii</text><text transform="translate(-82.27 2.32) rotate(358.39)" y="0.98" textLength="14.55" lengthAdjust="spacingAndGlyphs">B. uniformis</text><text transform="translate(-82.08 -6.02) rotate(364.19)" y="0.98" textLength="23.98" lengthAdjust="spacingAndGlyphs">Streptococcus salivarius</text><text transform="translate(-81.05 -14.29) rotate(370.00)" y="0.98" textLength="24.91" lengthAdjust="spacingAndGlyphs">Pseudomonas aeruginosa</text><text transform="translate(-79.19 -22.42) rotate(375.81)" y="0.98" textLength="21.71" lengthAdjust="spacingAndGlyphs">Bacteroides caccae</text><text transform="translate(-76.51 -30.31) rotate(381.61)" y="0.98" textLength="24.41" lengthAdjust="spacingAndGlyphs">Odoribacter splanchnicus</text><text transform="translate(-73.05 -37.90) rotate(387.42)" y="0.98" textLength="22.67" lengthAdjust="spacingAndGlyphs">Gemmiger formicilis</text><text transform="translate(-68.85 -45.10) rotate(393.23)" y="0.98" textLength="23.94" lengthAdjust="spacingAndGlyphs">Roseburia intestinalis</text><text transform="translate(-63.93 -51.83) rotate(399.03)" y="0.98" textLength="12.98" lengthAdjust="spacingAndGlyphs">B. fragilis</text><text transform="translate(-58.36 -58.03) rotate(404.84)" y="0.98" textLength="25.16" lengthAdjust="spacingAndGlyphs">Fusicatenibacter saccharivorans</text><text transform="translate(-52.19 -63.64) rotate(410.65)" y="0.98" textLength="21.38" lengthAdjust="spacingAndGlyphs">Lactococcus lactis</text><text transform="translate(-45.48 -68.59) rotate(416.45)" y="0.98" textLength="24.92" lengthAdjust="spacingAndGlyphs">Fusobacterium nucleatum</text><text transform="translate(-38.31 -72.84) rotate(422.26)" y="0.98" textLength="12.72" lengthAdjust="spacingAndGlyphs">P. vulgatus</text><text transform="translate(-30.74 -76.34) rotate(428.06)" y="0.98" textLength="16.74" lengthAdjust="spacingAndGlyphs">Prevotella sp.</text><text transform="translate(-22.86 -79.06) rotate(433.87)" y="0.98" textLength="25.31" lengthAdjust="spacingAndGlyphs">Lactobacillus rhamnosus</text><text transform="translate(-14.75 -80.97) rotate(439.68)" y="0.98" textLength="22.43" lengthAdjust="spacingAndGlyphs">Desulfovibrio piger</text><text transform="translate(-6.48 -82.04) rotate(445.48)" y="0.98" textLength="24.57" lengthAdjust="spacingAndGlyphs">Haemophilus parainfluenzae</text><text transform="translate(1.29 -57.19) rotate(-88.71)" y="0.98" textLength="23.81" lengthAdjust="spacingAndGlyphs">Flavonifractor plautii</text><text transform="translate(7.07 -56.76) rotate(-82.90)" y="0.98" textLength="23.97" lengthAdjust="spacingAndGlyphs">Enterococcus faecium</text></g></g>
<g font-family="'Liberation Sans', sans-serif" font-weight="bold" font-size="11.3px" fill="#000">
<text x="2.3" y="12.9" textLength="7.4" lengthAdjust="spacingAndGlyphs">A</text>
<text x="2.8" y="179.2" font-size="10.5px" textLength="6.2" lengthAdjust="spacingAndGlyphs">B</text>
<text x="212.4" y="13.0" textLength="6.8" lengthAdjust="spacingAndGlyphs">C</text>
</g>
<path d="M354.50 140.10L358.97 140.85L363.01 143.04L366.21 146.45L368.27 150.74L368.98 155.50L368.27 160.26L366.21 164.55L363.01 167.96L358.97 170.15L354.50 170.90L350.03 170.15L345.99 167.96L342.79 164.55L340.73 160.26L340.02 155.50L340.73 150.74L342.79 146.45L345.99 143.04L350.03 140.85ZM354.50 124.70L363.45 126.21L371.52 130.58L377.92 137.40L382.03 145.98L383.45 155.50L382.03 165.02L377.92 173.60L371.52 180.42L363.45 184.79L354.50 186.30L345.55 184.79L337.48 180.42L331.08 173.60L326.97 165.02L325.55 155.50L326.97 145.98L331.08 137.40L337.48 130.58L345.55 126.21ZM354.50 109.30L367.92 111.56L380.03 118.12L389.63 128.34L395.80 141.22L397.93 155.50L395.80 169.78L389.63 182.66L380.03 192.88L367.92 199.44L354.50 201.70L341.08 199.44L328.97 192.88L319.37 182.66L313.20 169.78L311.07 155.50L313.20 141.22L319.37 128.34L328.97 118.12L341.08 111.56ZM354.50 93.90L372.39 96.91L388.54 105.66L401.35 119.29L409.57 136.46L412.40 155.50L409.57 174.54L401.35 191.71L388.54 205.34L372.39 214.09L354.50 217.10L336.61 214.09L320.46 205.34L307.65 191.71L299.43 174.54L296.60 155.50L299.43 136.46L307.65 119.29L320.46 105.66L336.61 96.91ZM354.50 78.50L376.87 82.27L397.04 93.21L413.06 110.24L423.34 131.71L426.88 155.50L423.34 179.29L413.06 200.76L397.04 217.79L376.87 228.73L354.50 232.50L332.13 228.73L311.96 217.79L295.94 200.76L285.66 179.29L282.12 155.50L285.66 131.71L295.94 110.24L311.96 93.21L332.13 82.27ZM354.50 63.10L381.34 67.62L405.55 80.75L424.77 101.19L437.10 126.95L441.36 155.50L437.10 184.05L424.77 209.81L405.55 230.25L381.34 243.38L354.50 247.90L327.66 243.38L303.45 230.25L284.23 209.81L271.90 184.05L267.64 155.50L271.90 126.95L284.23 101.19L303.45 80.75L327.66 67.62ZM354.50 47.70L385.81 52.98L414.06 68.29L436.48 92.14L450.87 122.19L455.83 155.50L450.87 188.81L436.48 218.86L414.06 242.71L385.81 258.02L354.50 263.30L323.19 258.02L294.94 242.71L272.52 218.86L258.13 188.81L253.17 155.50L258.13 122.19L272.52 92.14L294.94 68.29L323.19 52.98Z" fill="none" stroke="#E3E8EF" stroke-width="0.6"/>
<path d="M354.14 154.33L354.50 58.11L377.29 80.89L382.70 114.21L373.94 140.47L374.19 148.69L371.00 155.50L359.18 157.12" fill="none" stroke="#1F6FD0" stroke-width="1.60" stroke-linejoin="round"/><path d="M359.18 157.12L358.25 158.40L357.22 159.49L355.89 160.04L354.50 159.97L353.34 159.31L352.63 158.24L352.39 157.13L352.30 156.26L352.33 155.50L352.02 154.64L351.69 153.33L353.48 154.00L354.14 154.33" fill="none" stroke="#1F6FD0" stroke-width="1.60" stroke-linejoin="round"/><circle cx="354.50" cy="58.11" r="1.50" fill="#1F6FD0"/><circle cx="377.29" cy="80.89" r="1.50" fill="#1F6FD0"/><circle cx="382.70" cy="114.21" r="1.50" fill="#1F6FD0"/><circle cx="373.94" cy="140.47" r="1.50" fill="#1F6FD0"/><circle cx="374.19" cy="148.69" r="1.50" fill="#1F6FD0"/><circle cx="371.00" cy="155.50" r="1.50" fill="#1F6FD0"/>
<path d="M354.05 154.04L354.50 85.71L372.12 97.79L385.13 110.65L374.55 140.00L381.70 146.10L396.91 155.50L359.73 157.31" fill="none" stroke="#F47B20" stroke-width="1.70" stroke-linejoin="round"/><path d="M359.73 157.31L358.72 158.76L357.56 159.99L356.07 160.63L354.50 160.58L353.16 159.89L352.29 158.74L351.92 157.49L351.75 156.45L351.75 155.50L351.47 154.45L350.56 152.46L353.14 153.51L354.05 154.04" fill="none" stroke="#F47B20" stroke-width="1.25" stroke-dasharray="1.3 0.55" stroke-linejoin="round"/><circle cx="354.50" cy="85.71" r="1.50" fill="#F47B20"/><circle cx="372.12" cy="97.79" r="1.50" fill="#F47B20"/><circle cx="385.13" cy="110.65" r="1.50" fill="#F47B20"/><circle cx="374.55" cy="140.00" r="1.50" fill="#F47B20"/><circle cx="381.70" cy="146.10" r="1.50" fill="#F47B20"/><circle cx="396.91" cy="155.50" r="1.50" fill="#F47B20"/><circle cx="359.73" cy="157.31" r="1.27" fill="#F47B20"/><circle cx="358.72" cy="158.76" r="0.75" fill="#F47B20"/><circle cx="357.56" cy="159.99" r="0.75" fill="#F47B20"/><circle cx="356.07" cy="160.63" r="0.75" fill="#F47B20"/><circle cx="354.50" cy="160.58" r="0.75" fill="#F47B20"/><circle cx="353.16" cy="159.89" r="0.75" fill="#F47B20"/><circle cx="352.29" cy="158.74" r="0.75" fill="#F47B20"/><circle cx="351.92" cy="157.49" r="0.75" fill="#F47B20"/><circle cx="351.75" cy="156.45" r="0.75" fill="#F47B20"/><circle cx="351.75" cy="155.50" r="0.75" fill="#F47B20"/><circle cx="351.47" cy="154.45" r="0.75" fill="#F47B20"/><circle cx="350.56" cy="152.46" r="1.27" fill="#F47B20"/><circle cx="353.14" cy="153.51" r="0.75" fill="#F47B20"/><circle cx="354.05" cy="154.04" r="1.27" fill="#F47B20"/>
<g font-family="'Liberation Sans', sans-serif" font-size="6.3px" fill="#505a6c" text-anchor="end">
<text x="347.3" y="158.10">0</text>
<text x="347.3" y="142.70">0.05</text>
<text x="347.3" y="127.30">0.1</text>
<text x="347.3" y="111.90">0.15</text>
<text x="347.3" y="96.50">0.2</text>
<text x="347.3" y="81.10">0.25</text>
<text x="347.3" y="65.70">0.3</text>
<text x="347.3" y="50.30">0.35</text>
</g>
<g font-family="'Liberation Sans', sans-serif" font-size="6.9px" font-style="italic" fill="#46556f">
<text x="379.8" y="42.2" textLength="43.2" lengthAdjust="spacingAndGlyphs">Proteobacteria</text>
<text x="371.6" y="51.0" textLength="59.9" lengthAdjust="spacingAndGlyphs">Alphaproteobacteria</text>
<text x="402.7" y="57.6" textLength="49.1" lengthAdjust="spacingAndGlyphs">Firmicutes Bacilli</text>
<text x="429.9" y="78.2" textLength="72.0" lengthAdjust="spacingAndGlyphs">Bacteroidota Bacteroidia</text>
<text x="449.6" y="106.7" textLength="90.7" lengthAdjust="spacingAndGlyphs">Actinobacteriota Actinobacteria</text>
<text x="459.3" y="140.2" textLength="58.6" lengthAdjust="spacingAndGlyphs">Firmicutes Clostridia</text>
<text x="459.3" y="171.4" textLength="54.7" lengthAdjust="spacingAndGlyphs">Verrucomicrobiota</text>
<text x="461.0" y="180.1" textLength="51.4" lengthAdjust="spacingAndGlyphs">Verrucomicrobiae</text>
<text x="449.5" y="209.3" textLength="97.2" lengthAdjust="spacingAndGlyphs">Actinobacteriota Thermoleophilia</text>
<text x="429.9" y="238.3" textLength="96.2" lengthAdjust="spacingAndGlyphs">Planctomycetota Planctomycetes</text>
<text x="402.7" y="258.2" textLength="91.7" lengthAdjust="spacingAndGlyphs">Acidobacteriota Acidobacteriae</text>
<text x="371.6" y="269.4" textLength="84.1" lengthAdjust="spacingAndGlyphs">Fusobacteriota Fusobacteriia</text>
<text x="250.7" y="269.4" textLength="86.9" lengthAdjust="spacingAndGlyphs">Cyanobacteria Cyanobacteriia</text>
<text x="235.0" y="258.2" textLength="71.5" lengthAdjust="spacingAndGlyphs">Firmicutes Negativicutes</text>
<text x="189.5" y="238.3" textLength="90.3" lengthAdjust="spacingAndGlyphs">Abditibacteriota Abditibacteria</text>
<text x="191.7" y="209.1" textLength="68.1" lengthAdjust="spacingAndGlyphs">Myxococcota Polyangia</text>
<text x="169.8" y="174.7" textLength="80.2" lengthAdjust="spacingAndGlyphs">Bdellovibrionota Oligoflexia</text>
<text x="162.6" y="139.7" textLength="86.4" lengthAdjust="spacingAndGlyphs">Acidobacteriota Blastocatellia</text>
<text x="170.8" y="106.7" textLength="89.0" lengthAdjust="spacingAndGlyphs">Verrucomicrobiota Chlamydiae</text>
<text x="222.8" y="78.2" textLength="56.7" lengthAdjust="spacingAndGlyphs">Unknown Unknown</text>
<text x="215.0" y="57.6" textLength="91.3" lengthAdjust="spacingAndGlyphs">Actinobacteriota Acidimicrobiia</text>
<text x="283.4" y="42.2" textLength="42.9" lengthAdjust="spacingAndGlyphs">Proteobacteria</text>
<text x="271.3" y="51.0" textLength="65.4" lengthAdjust="spacingAndGlyphs">Gammaproteobacteria</text>
</g>
<path d="M457.8 292.6H462.2M465.9 292.6H470.5" stroke="#1F6FD0" stroke-width="1.6"/><rect x="462.6" y="291.1" width="3" height="3" fill="#1F6FD0"/>
<path d="M492.7 292.6H497.0M500.7 292.6H505.1" stroke="#F47B20" stroke-width="1.6"/><rect x="497.4" y="291.1" width="3" height="3" fill="#F47B20"/>
<g font-family="'Liberation Sans', sans-serif" font-size="6.6px" fill="#3f4b63">
<text x="471.5" y="294.8" textLength="16.7" lengthAdjust="spacingAndGlyphs">Mean</text>
<text x="506.0" y="294.8" textLength="7.1" lengthAdjust="spacingAndGlyphs">Sd</text>
</g>
</svg></body></html>
